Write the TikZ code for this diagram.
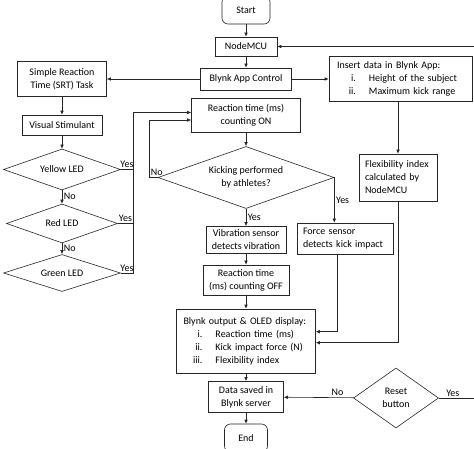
\documentclass[tikz,border=0pt]{standalone}
\usepackage{fontspec}
\setmainfont{Carlito}
\usetikzlibrary{positioning,shapes.geometric,arrows.meta}

\newcommand{\romitem}[2]{\makebox[19pt][r]{#1}\hspace{13pt}#2}

\begin{document}
\begin{tikzpicture}[x=1pt,y=-1pt,
    line width=0.6pt, draw=black!85,
    font=\fontsize{10}{13}\selectfont,
    box/.style={draw=black!85, rectangle, align=center, inner sep=2pt},
    leftbox/.style={box, align=left, inner ysep=2pt},
    term/.style={box, rounded corners=6pt},
    dec/.style={draw=black!85, diamond, align=center, inner sep=1pt},
    arr/.style={draw=black!85, -{Latex[length=4pt,width=3.6pt]}},
    lbl/.style={inner sep=1.5pt}]
    \useasboundingbox (0,0) rectangle (474,449);

    \node[term, minimum width=48, minimum height=28] (start) at (246,10) {Start};
    \node[box, minimum width=62, minimum height=19] (mcu) at (246,46.5) {NodeMCU};
    \node[box, minimum width=91, minimum height=22] (app) at (246,79) {Blynk App Control};
    \node[box, minimum width=89, minimum height=35] (srt) at (62,79) {Simple Reaction\\Time (SRT) Task};
    \node[box, minimum width=80, minimum height=20] (visual) at (62,125) {Visual Stimulant};
    \node[dec, minimum width=117, minimum height=41, aspect=2.8] (yellow) at (62,169.5) {Yellow LED};
    \node[dec, minimum width=111, minimum height=39, aspect=2.8] (red) at (62,223.5) {Red LED};
    \node[dec, minimum width=117, minimum height=37, aspect=3] (green) at (62,273) {Green LED};
    \node[leftbox, text width=127, inner xsep=8pt, minimum height=45] (insert) at (400.5,79)
        {Insert data in Blynk App:\\ \romitem{i.}{Height of the subject}\\ \romitem{ii.}{Maximum kick range}};
    \node[box, minimum width=109, minimum height=34] (on) at (246,115.5) {Reaction time (ms)\\counting ON};
    \node[dec, minimum width=176, minimum height=62, aspect=2.8] (kick) at (246,177.5) {Kicking performed\\by athletes?};
    \node[leftbox, text width=66, inner xsep=6pt, minimum height=47] (flex) at (398,177.5)
        {Flexibility index\\calculated by\\NodeMCU};
    \node[box, minimum width=80, minimum height=27] (vib) at (246,240) {Vibration sensor\\detects vibration};
    \node[leftbox, text width=84, inner xsep=6pt, minimum height=31] (force) at (345,238.5)
        {Force sensor\\detects kick impact};
    \node[box, minimum width=86, minimum height=30] (off) at (246,280) {Reaction time\\(ms) counting OFF};
    \node[leftbox, text width=125, inner xsep=7pt, minimum height=64] (out) at (246,341)
        {Blynk output \& OLED display:\\ \romitem{i.}{Reaction time (ms)}\\ \romitem{ii.}{Kick impact force (N)}\\ \romitem{iii.}{Flexibility index}};
    \node[box, minimum width=75, minimum height=31] (saved) at (246,397) {Data saved in\\Blynk server};
    \node[term, minimum width=43, minimum height=28] (end) at (246,438) {End};
    \node[dec, minimum width=85, minimum height=60, aspect=1.4] (reset) at (396,398) {Reset\\button};

    \coordinate (yesx) at (133,0);
    \coordinate (nox) at (149,0);

    \draw[arr] (start) -- (mcu);
    \draw[arr] (mcu) -- (app);
    \draw[arr] (app) -- (srt);
    \draw[arr] (app) -- (insert);
    \draw[arr] (srt) -- (visual);
    \draw[arr] (visual) -- (yellow);
    \draw[arr] (yellow) -- node[lbl, right, pos=.45]{No} (red);
    \draw[arr] (red) -- node[lbl, right, pos=.45]{No} (green);
    \draw (yellow.east) -- node[lbl, above]{Yes} (yellow.east -| yesx);
    \draw (red.east) -- node[lbl, above]{Yes} (red.east -| yesx);
    \draw[arr] (green.east) -- node[lbl, above]{Yes} (green.east -| yesx) |- ([yshift=3pt]on.west);
    \draw[arr] (kick.west) -- (kick.west -| nox) node[lbl, above right]{No} |- ([yshift=-4.5pt]on.west);
    \draw[arr] (on) -- (kick);
    \draw[arr] (kick) -- node[lbl, right]{Yes} (vib);
    \draw[arr] (kick.east) -- node[lbl, right]{Yes} (kick.east |- force.north);
    \draw[arr] (insert.south -| flex) -- (flex);
    \draw[arr] (vib) -- (off);
    \draw[arr] (off) -- (out);
    \draw[arr] ([xshift=-8pt]force.south) |- ([yshift=9.3pt]out.east);
    \draw[arr] (flex.south) |- ([yshift=-1.7pt]out.east);
    \draw[arr] (out) -- (saved);
    \draw[arr] (saved) -- (end);
    \draw[arr] (reset) -- node[lbl, above, pos=.23]{No} (saved);
    \draw[arr] (reset.east) -- node[lbl, above, pos=.35]{Yes} ++(40,0) |- (mcu.east);
\end{tikzpicture}
\end{document}
